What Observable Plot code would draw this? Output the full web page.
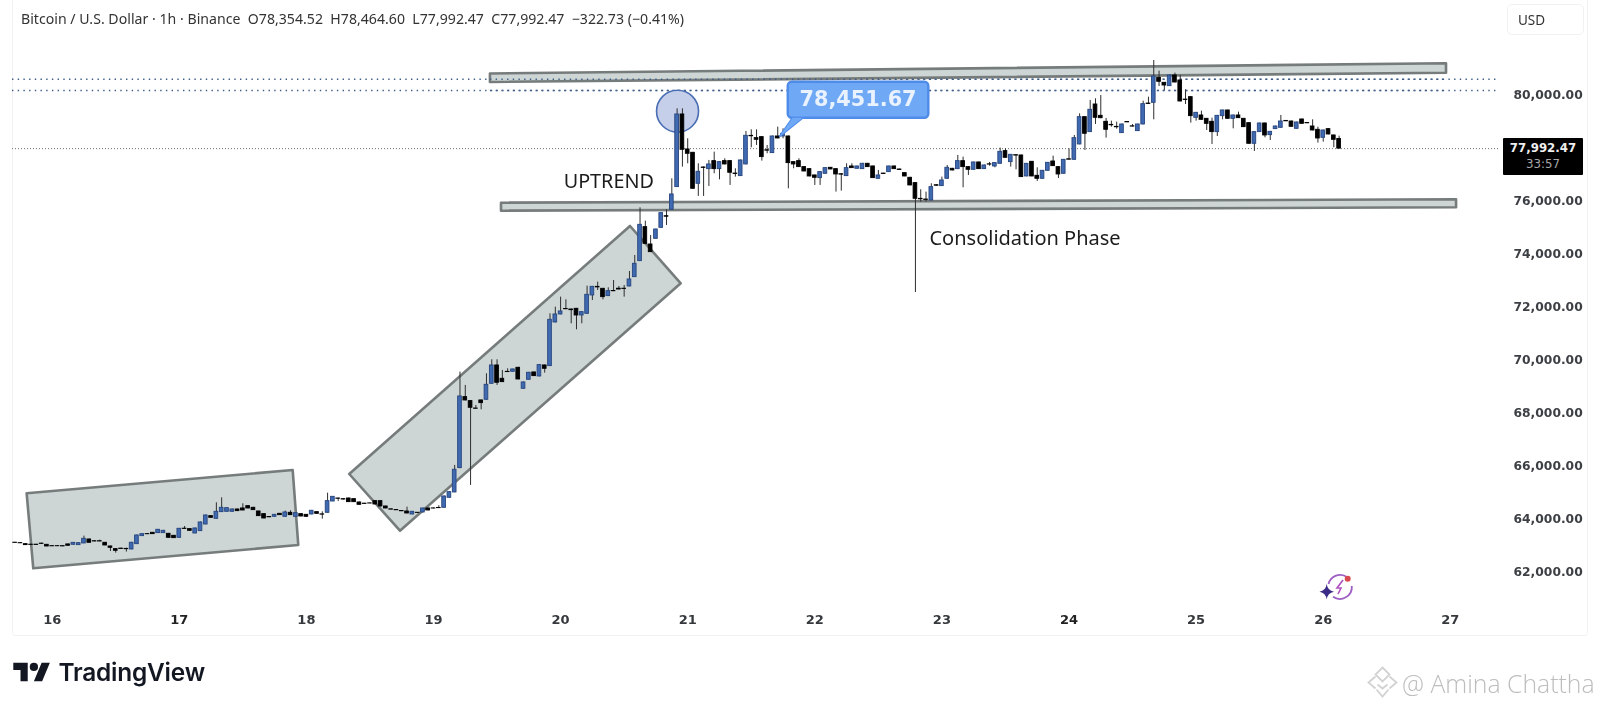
<!DOCTYPE html>
<html>
<head>
<meta charset="utf-8">
<script src="https://cdn.jsdelivr.net/npm/d3@7"></script>
<script src="https://cdn.jsdelivr.net/npm/@observablehq/plot@0.6"></script>
<style>
html,body{margin:0;padding:0;background:#fff;width:1600px;height:708px;overflow:hidden}
#stage{position:relative;width:1600px;height:708px;font-family:"Noto Sans",sans-serif;filter:blur(.4px)}
#stage>svg{position:absolute;left:0;top:0;max-width:none}
.o{position:absolute;white-space:pre}
#panel{left:12px;top:-2px;width:1576px;height:638px;border:1.5px solid #f1f2f3;border-radius:3px;box-sizing:border-box}
#head{left:21px;top:9px;font-size:14.1px;color:#333;letter-spacing:.02px}
#usd{left:1507px;top:4px;width:77px;height:31px;border:1px solid #f0f1f2;border-radius:5px;box-sizing:border-box;font-size:13.5px;color:#333;line-height:30px;padding-left:10px}
#tag{left:1503px;width:80px;height:37px;background:#000;border-radius:1px;color:#eee;font:bold 11.8px/16px "DejaVu Sans",sans-serif;text-align:center;padding-top:2px;box-sizing:border-box}
#tag span{display:block;color:#a8a8a8;font-weight:normal}
#brand{left:58.5px;top:655px;font:600 24.4px/34px Inter,sans-serif;color:#131722;letter-spacing:-.2px}
#mark{left:1402px;top:665.5px;font:300 24.8px/34px "Open Sans",sans-serif;color:#bdbdbd}
</style>
</head>
<body>
<div id="stage">
<div class="o" id="panel"></div>
</div>
<script>
const firstHour = -7;
const opens = [
63105,63090,63050,63030,63030,63070,63025,62975,62975,62975,63040,63026,63013,63076,63227,63160,63160,63101,62962,62862,
62880,62870,62849,63050,63353,63430,63479,63466,63466,63441,63365,63290,63635,63617,63453,63541,63793,64108,64007,64259,
64272,64272,64360,64398,64486,64423,64284,64184,64075,64083,64196,64083,64234,64083,64184,64158,64171,64259,64175,64234,
64662,64775,64750,64775,64750,64624,64580,64590,64675,64675,64473,64365,64340,64302,64284,64171,64235,64247,64398,64400,
64415,64423,64801,
65004,65923,68605,68454,68175,68479,68504,69108,69801,69297,69560,69562,69713,68920,69260,69537,69385,69801,69776,71425,
71727,71935,71915,71941,71689,71752,72445,72770,72697,72420,72615,72700,72700,72785,73137,73742,75026,74371,74585,75001,75440,
75682,76539,79283,77961,77835,76664,77280,77218,77521,77218,77521,77521,77050,76954,77395,78475,78389,78427,77930,77823,
78452,78452,78452,77483,77521,77294,77218,76979,76878,77042,77269,77218,77025,76954,77319,77231,77218,77420,77319,76853,
77050,77105,77319,77205,77067,76891,76690,76095,76070,76035,76610,76576,76853,77231,77218,
77520,77294,77193,77470,77218,77400,77319,77419,77898,77482,77745,77734,76941,77495,76966,76853,77155,77507,77294,77042,
77590,77570,78150,79182,78616,79660,79232,79006,78890,78815,78578,79000,78835,78653,78905,79695,79723,80668,80479,80353,
80756,80567,79845,79937,79157,79245,79119,79006,78616,79220,79434,79119,79245,79119,78955,78175,78616,78943,78502,78729,
78779,79040,79018,78741,79094,78960,78829,78704,78401,78729,78490,78354.52];
const closes = [
63098,63082,63013,63022,63020,63060,62962,62968,62970,62965,62988,63100,63088,63252,63101,63150,63150,63000,62912,62799,
62868,62860,63101,63378,63428,63425,63428,63592,63554,63290,63277,63630,63625,63554,63642,63869,64133,64045,64272,64423,
64410,64360,64297,64322,64398,64335,64108,64020,64065,64158,64146,64247,64146,64221,64095,64083,64310,64196,64165,64675,
64838,64765,64735,64637,64637,64536,64570,64585,64549,64473,64398,64355,64330,64292,64209,64272,64230,64398,64322,64395,
64410,64851,65014,
65860,68630,68479,68202,68165,68378,69071,69801,69146,69171,69550,69650,69272,69159,69524,69398,69814,69675,71526,71727,
71841,71925,71890,71689,71815,72470,72772,72750,72382,72608,72605,72670,72690,73049,73641,75114,74396,74082,74938,75555,75420,
76261,79283,77949,77798,76475,77118,77265,77395,77218,77483,77395,77080,77035,77546,78477,78460,78326,77672,77915,78452,
78377,78553,77445,77395,77294,77130,76941,76891,77105,77256,77206,77017,77010,77256,77256,77319,77420,77294,76878,76979,
77035,77319,77218,77185,76941,76601,76098,76080,76055,76539,76590,76790,77269,77168,77521,
77294,77193,77470,77218,77357,77390,77445,77873,77646,77759,77730,76916,77419,76941,76853,77155,77457,77331,77017,77570,
77575,78389,79182,78553,79459,79157,79144,78704,78875,78800,78905,78985,78825,78905,79673,79680,80718,80517,80378,80756,
80491,79774,79830,79220,79346,79081,78930,78616,79232,79434,79119,79245,79144,78804,78175,78616,78943,78490,78628,78829,
79018,79025,78817,78981,78930,78950,78678,78376,78678,78527,78326,77992.47];
const highs = [
63115,63100,63060,63040,63040,63085,63035,62985,62985,62985,63050,63110,63100,63353,63240,63175,63200,63115,62975,62875,
62900,62900,63120,63395,63440,63445,63490,63605,63570,63455,63380,63645,63718,63640,63660,63885,64150,64120,64612,64800,
64425,64375,64375,64574,64500,64440,64300,64195,64085,64170,64210,64300,64310,64235,64195,64170,64325,64270,64272,64977,
64850,64785,64765,64790,64765,64640,64590,64600,64690,64690,64485,64375,64350,64315,64448,64285,64245,64410,64410,64410,
64500,64870,65030,
66024,69549,69046,68470,68290,68495,69486,70015,70015,69612,69675,69665,69730,69175,69540,69550,69830,69815,71752,72004,
72382,72281,71930,71955,71830,72797,72785,72948,72710,72734,73011,72785,72822,73351,73956,75756,75252,74711,74950,75570,75680,
76853,79497,79497,78364,77850,77420,77300,77546,77860,77500,77609,77535,77231,77560,78641,78704,78704,78440,78112,78465,
78805,78742,78465,77495,77609,77305,77230,76990,77118,77270,77280,77230,77040,77420,77420,77330,77433,77433,77330,77168,
77060,77330,77330,77215,77080,76905,76705,76438,76350,76664,76625,76916,77357,77245,77735,
77671,77305,77482,77482,77370,77470,77458,78011,77986,77770,77755,77745,77430,77505,77268,77168,77470,77709,77305,77582,
77986,78490,79308,79195,79812,79874,80000,79132,79031,78993,78918,79010,78905,78918,79786,79937,81322,80919,80490,80770,
80844,80756,80214,79950,79358,79409,79130,79144,79245,79445,79445,79258,79371,79130,78965,78630,78955,78955,78640,78840,
79245,79050,79030,78993,79105,78970,79081,78804,78690,78740,78500,78464.60];
const lows = [
63090,63075,63005,63010,63010,63050,62950,62960,62960,62955,62980,63015,63005,63070,63095,63140,63140,62990,62774,62710,
62850,62750,62840,63040,63340,63410,63415,63455,63455,63275,63265,63275,63610,63540,63440,63530,63780,64030,63995,64250,
64260,64260,64285,64310,64385,64325,64095,64005,64050,64070,64135,64070,64135,64070,64085,64070,64160,64185,63995,64220,
64650,64662,64722,64625,64625,64520,64560,64575,64535,64460,64385,64345,64320,64280,64195,64160,64220,64235,64310,64385,
64400,64410,64790,
64990,65900,68465,65268,68150,68126,68490,69095,69046,69160,69540,69550,69260,68905,69245,69385,69370,69511,69760,71410,
71715,71910,71375,71148,71375,71740,72256,72634,72281,72405,72590,72660,72382,72770,73125,73730,74380,74070,74570,74990,75089,
75670,76525,77294,77420,76460,76186,76186,76564,77042,76815,77380,76601,76916,76940,77380,78024,78112,77521,77798,77810,
78365,78364,76475,77231,77280,77120,76930,76601,76601,77030,77195,76350,76387,76940,77245,77220,77205,77280,76865,76840,
77020,77095,77205,77170,76930,76590,72557,75972,75972,76020,76575,76565,76840,77155,77205,
76513,76979,77180,77205,77205,77330,77268,77405,77635,77294,77193,76905,76930,76930,76752,76840,77145,77320,76865,77030,
77565,77555,78140,77923,78605,78905,79119,78389,78804,78729,78565,78975,78815,78640,78890,79665,79081,80340,80189,80340,
80480,79760,79660,78955,79031,79070,78678,78150,78452,79081,79105,78741,79130,78790,78160,77885,78605,78401,78301,78715,
78765,79015,78805,78729,78918,78940,78665,78200,78238,78515,78024,77992.47];

const priceTicks = [62000,64000,66000,68000,70000,72000,74000,76000,80000];
const dayTicks = [16,18,19,20,21,22,23,25,26,27];
const boldDayTicks = [17,24];
const symbolLine = "Bitcoin / U.S. Dollar · 1h · Binance  O78,354.52  H78,464.60  L77,992.47  C77,992.47  −322.73 (−0.41%)";
const lastPrice = 77992.47;
const countdown = "33:57";
const levelLines = [80616, 80189];
const calloutValue = 78451.67;

const candles = opens.map((o,i)=>({day:16+(firstHour+i)/24,o,c:closes[i],h:highs[i],l:lows[i]}));
const up = candles.filter(d=>d.c>=d.o);
const down = candles.filter(d=>d.c<d.o);
const half = 0.0145;

const boxBase = [
  {x1:15.803,y1:64952,x2:15.855,y2:62119},
  {x1:17.896,y1:65833,x2:17.940,y2:62999}];
const boxRise = [
  {x1:18.341,y1:65681,x2:18.740,y2:63539},
  {x1:20.550,y1:75051,x2:20.949,y2:72886}];
const barTop = [
  {x1:19.448,y1:80812,x2:19.448,y2:80491},
  {x1:26.970,y1:81198,x2:26.970,y2:80842}];
const barBottom = [
  {x1:19.535,y1:75931,x2:19.535,y2:75629},
  {x1:27.049,y1:76060,x2:27.049,y2:75757}];
const pointer = [
  {x1:21.830,y1:79142,x2:21.909,y2:79142},
  {x1:21.730,y1:calloutValue,x2:21.730,y2:calloutValue}];
const callout = [{x1:21.791,x2:22.897,y1:79142,y2:80502}];
const peak = [{x:20.92,y:79407}];
const labels = [
  {x:20.379,y:76751,t:"UPTREND",s:19.8},
  {x:23.654,y:74597,t:"Consolidation Phase",s:20}];

const shape = {fill:"#cdd6d5",stroke:"#767b7b",strokeWidth:2.6,curve:"linear"};
const a4 = d=>Plot.area(d,{x1:"x1",y1:"y1",x2:"x2",y2:"y2",...shape});

const chart = Plot.plot({
  width:1600,height:708,marginLeft:12,marginRight:102,marginTop:10,marginBottom:108,
  style:{background:"transparent",fontFamily:"'DejaVu Sans',sans-serif",overflow:"visible"},
  x:{type:"linear",domain:[15.6877,27.379],axis:null},
  y:{type:"linear",domain:[60921,83211],axis:null},
  marks:[
    Plot.ruleY(levelLines,{stroke:"#3f5d86",strokeWidth:1.6,strokeDasharray:"1.4 4.3"}),
    Plot.ruleY([lastPrice],{stroke:"#6a6f6f",strokeWidth:1,strokeDasharray:"1 2"}),
    a4(boxBase),a4(boxRise),a4(barTop),a4(barBottom),
    Plot.ruleY(levelLines,{x1:19.448,x2:26.97,stroke:"#3f5d86",strokeWidth:1.4,strokeDasharray:"1.4 4.3"}),
    Plot.dot(peak,{x:"x",y:"y",r:21,fill:"#c6cfea",stroke:"#4a6fb5",strokeWidth:1.6}),
    Plot.ruleX(candles,{x:"day",y1:"l",y2:"h",stroke:"#2e2e2e",strokeWidth:1}),
    Plot.rect(up,{x1:d=>d.day-half,x2:d=>d.day+half,y1:"o",y2:"c",fill:"#3f69b0",stroke:"#28467f",strokeWidth:.9}),
    Plot.rect(down,{x1:d=>d.day-half,x2:d=>d.day+half,y1:"o",y2:"c",fill:"#000",stroke:"#000",strokeWidth:.9}),
    Plot.area(pointer,{x1:"x1",y1:"y1",x2:"x2",y2:"y2",fill:"#6fa9f6",stroke:"#4f8be8",strokeWidth:2,curve:"linear"}),
    Plot.rect(callout,{x1:"x1",x2:"x2",y1:"y1",y2:"y2",fill:"#6fa9f6",stroke:"#4f8be8",strokeWidth:2.4,r:4}),
    Plot.area(pointer,{x1:"x1",y1:"y1",x2:"x2",y2:"y2",fill:"#6fa9f6",curve:"linear"}),
    Plot.text([calloutValue],{x:22.34,y:79838,text:d=>d3.format(",.2f")(d),fill:"#eaf2ff",fontSize:20.8,fontWeight:"bold",fontFamily:"'DejaVu Sans',sans-serif"}),
    Plot.text(labels,{x:"x",y:"y",text:"t",fontSize:d=>d.s,fill:"#1c1c1c",fontFamily:"'Noto Sans',sans-serif"}),
    Plot.axisY({anchor:"right",ticks:priceTicks,tickFormat:d3.format(",.2f"),tickSize:0,tickPadding:15,fontSize:12.3,fill:"#3c3f44",fontWeight:600,label:null}),
    Plot.axisX({anchor:"bottom",ticks:dayTicks,tickFormat:d=>String(d),tickSize:0,tickPadding:14,fontSize:13,fill:"#35383c",fontWeight:600,label:null}),
    Plot.axisX({anchor:"bottom",ticks:boldDayTicks,tickFormat:d=>String(d),tickSize:0,tickPadding:14,fontSize:13,fill:"#222",fontWeight:700,label:null})
  ]
});
const stage = document.getElementById("stage");
stage.appendChild(chart);

function add(id,txt){const e=document.createElement("div");e.className="o";e.id=id;e.textContent=txt;stage.appendChild(e);return e;}
add("head",symbolLine);
add("usd","USD");
const tag=add("tag",d3.format(",.2f")(lastPrice));
tag.style.top=(chart.scale("y").apply(lastPrice)-10)+"px";
const sp=document.createElement("span");sp.textContent=countdown;tag.appendChild(sp);
add("brand","TradingView");
add("mark","@ Amina Chattha");

const deco=document.createElementNS("http://www.w3.org/2000/svg","svg");
deco.setAttribute("width",1600);deco.setAttribute("height",708);
deco.style.pointerEvents="none";
deco.innerHTML=`
<g transform="translate(13.3,658.7) scale(1.03)" fill="#131722"><path d="M14 22H7V11H0V4h14v18zM28 22h-8l7.5-18h8L28 22z"/><circle cx="20" cy="8" r="4"/></g>
<g transform="translate(1340,587)" fill="none" stroke="#9d5fc4" stroke-width="1.8">
<path d="M-11.5 -3 A12 12 0 0 1 6 -10.5"/><path d="M11.8 -1 A12 12 0 0 1 -7 9.8"/>
<path d="M3 -7 L-3 1 L1 1 L-2 7" stroke="#b04fc0" stroke-width="1.6"/></g>
<circle cx="1347.7" cy="578.7" r="3" fill="#d8484f"/>
<path d="M1326.7 584 Q1327.5 590.5 1334 591.7 Q1327.5 593 1326.7 599.5 Q1325.9 593 1319.5 591.7 Q1325.9 590.5 1326.7 584Z" fill="#3b2a86"/>
<g transform="translate(1382.5,682.5)" fill="none" stroke="#d2d2d2" stroke-width="1.8">
<path d="M0 -15 L7 -8 L0 -1 L-7 -8Z"/><path d="M-7 -6 L-14 0 L-7 6"/><path d="M7 -6 L14 0 L7 6"/><path d="M-6 7 L0 14 L6 7"/><path d="M-5 2 L0 6 L5 2"/></g>`;
stage.appendChild(deco);
</script>
</body>
</html>
